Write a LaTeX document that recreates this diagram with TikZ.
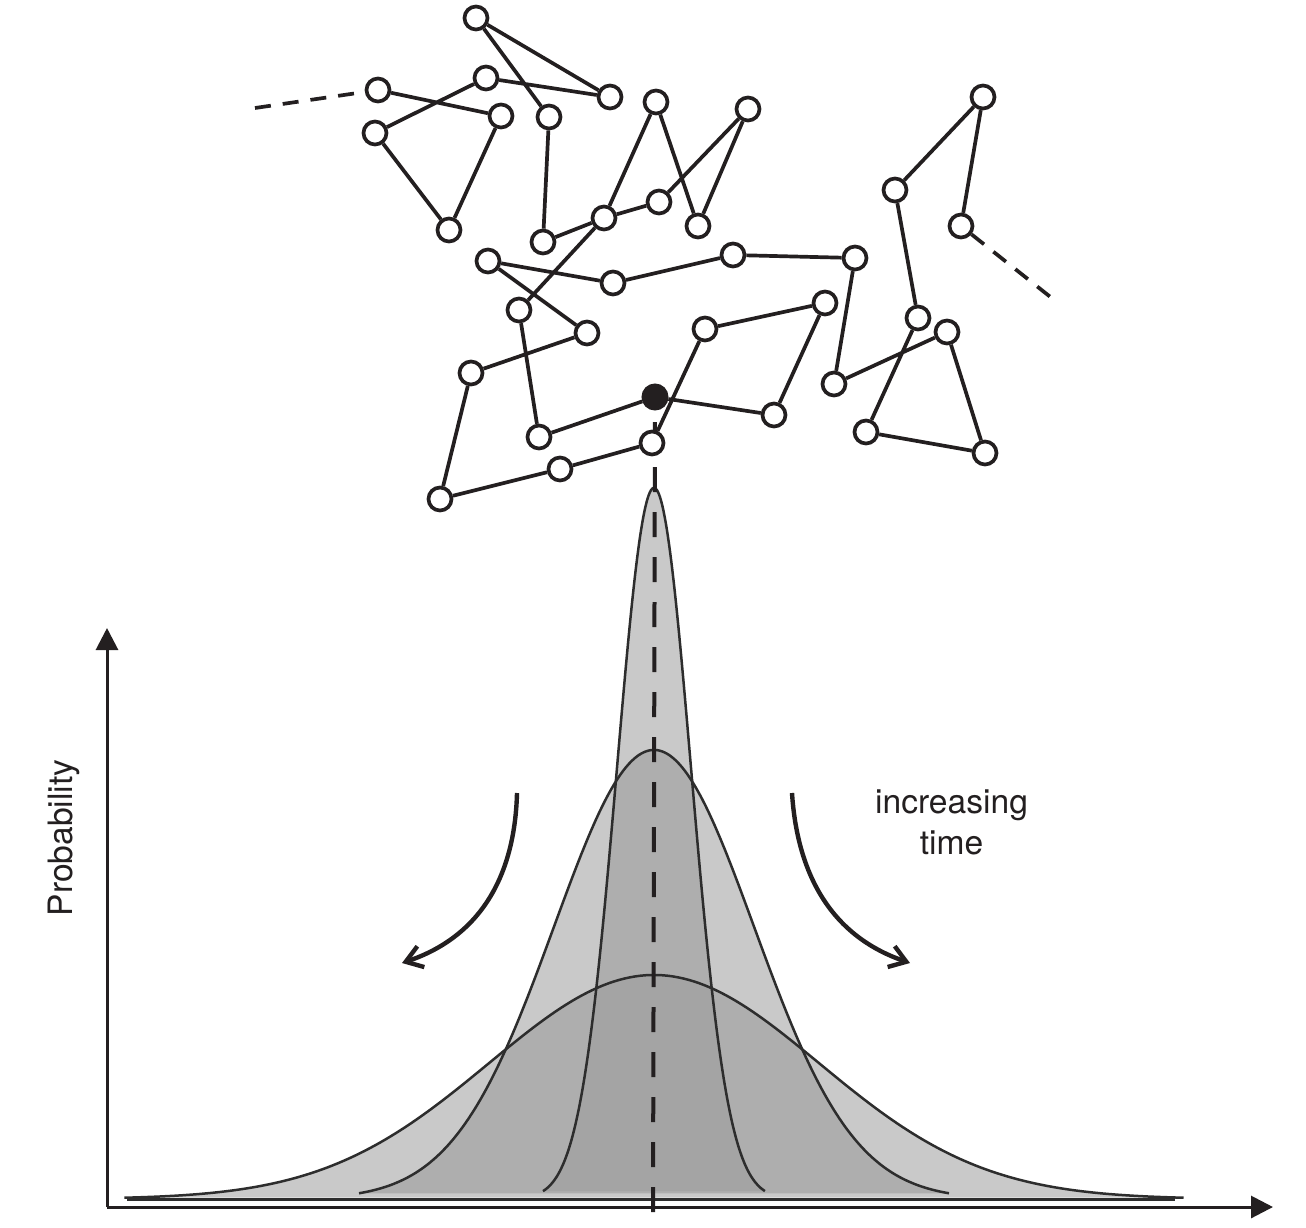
\documentclass[tikz,border=0pt]{standalone}
\usepackage{fontspec}
\setmainfont{TeX Gyre Heros}
\usetikzlibrary{arrows.meta}
\pgfdeclarelayer{bg}
\pgfdeclarelayer{edges}
\pgfsetlayers{bg,edges,main}
\definecolor{ink}{RGB}{35,31,32}
\definecolor{gA}{RGB}{201,201,201}
\definecolor{gB}{RGB}{174,174,174}
\definecolor{gC}{RGB}{164,164,164}
\definecolor{gline}{RGB}{45,45,45}
\def\pwide{plot[domain=-3.21:3.21,samples=200] ({654+165*\x},{1199-224*exp(-0.5*\x*\x)})}
\def\pmed{plot[domain=-2.95:2.95,samples=200] ({654+100*\x},{1199-449*exp(-0.5*\x*\x)})}
\def\pnar{plot[domain=-3:3,samples=200] ({654+37*\x},{1199-711*exp(-0.5*\x*\x)})}
\tikzset{
  bead/.style={circle, draw=ink, fill=white, line width=1.85pt, minimum size=11.5pt, inner sep=0pt},
  blackbead/.style={circle, draw=ink, fill=ink, line width=1pt, minimum size=12.5pt, inner sep=0pt},
  bond/.style={draw=ink, line width=1.85pt},
  loosebond/.style={draw=ink, line width=1.85pt, dash pattern=on 8pt off 6pt},
  axisline/.style={draw=ink, line width=1.5pt, -{Triangle[length=11pt,width=11pt]}},
  turnarrow/.style={draw=ink, line width=2.2pt, -{Straight Barb[length=8pt,width=11pt]}},
  lbl/.style={text=ink, font=\fontsize{16.8}{20.5}\selectfont, inner sep=0pt},
  vdash/.style={draw=ink, line width=2pt, dash pattern=on 12.5pt off 10pt, dash phase=10pt},
}
\begin{document}
\begin{tikzpicture}[x=0.5pt,y=-0.5pt]
\useasboundingbox (0,0) rectangle (1306,1227);
% chain beads
\node[bead] (c1) at (378,90) {};
\node[bead] (c2) at (501,116) {};
\node[bead] (c3) at (449,230) {};
\node[bead] (c4) at (375,133) {};
\node[bead] (c5) at (486,78) {};
\node[bead] (c6) at (610,97) {};
\node[bead] (c7) at (476,18) {};
\node[bead] (c8) at (549,117) {};
\node[bead] (c9) at (543,242) {};
\node[bead] (c10) at (604,218) {};
\node[bead] (c11) at (659,202) {};
\node[bead] (c12) at (748,109) {};
\node[bead] (c13) at (698,226) {};
\node[bead] (c14) at (656,102) {};
\node[bead] (c15) at (519,310) {};
\node[bead] (c16) at (539,437) {};
\node[blackbead] (b) at (655,397) {};
\node[bead] (c17) at (774,415) {};
\node[bead] (c18) at (825,303) {};
\node[bead] (c19) at (705,329) {};
\node[bead] (c20) at (652,443) {};
\node[bead] (c21) at (560,469) {};
\node[bead] (c22) at (440,499) {};
\node[bead] (c23) at (471,373) {};
\node[bead] (c24) at (587,333) {};
\node[bead] (c25) at (488,261) {};
\node[bead] (c26) at (613,283) {};
\node[bead] (c27) at (733,255) {};
\node[bead] (c28) at (855,258) {};
\node[bead] (c29) at (834,384) {};
\node[bead] (c30) at (947,332) {};
\node[bead] (c31) at (985,453) {};
\node[bead] (c32) at (866,432) {};
\node[bead] (c33) at (918,318) {};
\node[bead] (c34) at (895,190) {};
\node[bead] (c35) at (983,97) {};
\node[bead] (c36) at (961,226) {};
\coordinate (dA) at (255,108);
\coordinate (dB) at (1058,303);
% axes and labels
\coordinate (o) at (107,1207);
\coordinate (ytip) at (107,628);
\coordinate (xtip) at (1273,1207);
\coordinate (vbot) at (653,1212);
\coordinate (la1) at (517,793);
\coordinate (la2) at (402,963);
\coordinate (ra1) at (792,793);
\coordinate (ra2) at (910,963);
\node[lbl, rotate=90, anchor=base] (prob) at (72,838) {Probability};
\node[lbl, anchor=base] (inc) at (951.5,813) {increasing};
\node[lbl, anchor=base] (tim) at (951.5,854) {time};
\draw[axisline] (o) -- (ytip);
\draw[axisline] (o) -- (xtip);
\draw[turnarrow] (la1) .. controls (515,870) and (485,935) .. (la2);
\draw[turnarrow] (ra1) .. controls (797,870) and (828,935) .. (ra2);
\begin{pgfonlayer}{edges}
\draw[loosebond] (dA) -- (c1);
\draw[bond] (c1) -- (c2) -- (c3) -- (c4) -- (c5) -- (c6) -- (c7) -- (c8) -- (c9) -- (c10);
\draw[bond] (c10) -- (c14) -- (c13) -- (c12) -- (c11) -- (c10);
\draw[bond] (c10) -- (c15) -- (c16) -- (b) -- (c17) -- (c18) -- (c19) -- (c20) -- (c21) -- (c22) -- (c23) -- (c24) -- (c25) -- (c26) -- (c27) -- (c28) -- (c29) -- (c30) -- (c31) -- (c32) -- (c33) -- (c34) -- (c35) -- (c36);
\draw[loosebond] (c36) -- (dB);
\end{pgfonlayer}
\begin{pgfonlayer}{bg}
\fill[gA] \pwide -- cycle;
\fill[gA] \pmed -- cycle;
\fill[gA] \pnar -- cycle;
\begin{scope}
\clip \pmed -- cycle;
\fill[gB] \pwide -- cycle;
\fill[gB] \pnar -- cycle;
\end{scope}
\begin{scope}
\clip \pmed -- cycle;
\clip \pnar -- cycle;
\fill[gC] \pwide -- cycle;
\end{scope}
\draw[gline, line width=1.25pt] \pwide;
\draw[gline, line width=1.25pt] \pmed;
\draw[gline, line width=1.25pt] \pnar;
\draw[gline, line width=1.5pt] (127,1199) -- (1175,1199);
\draw[vdash] (b.center) -- (vbot);
\end{pgfonlayer}
\end{tikzpicture}
\end{document}
